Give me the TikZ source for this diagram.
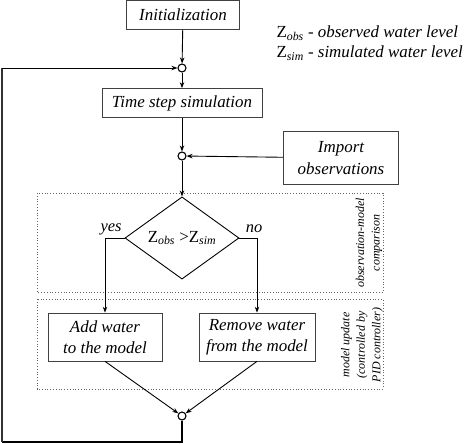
\documentclass[tikz,border=0pt]{standalone}
\usepackage{fontspec}
\setmainfont{Liberation Serif}
\usetikzlibrary{arrows.meta,shapes.geometric}

\begin{document}
\begin{tikzpicture}[x=1bp,y=1bp,
    process/.style ={rectangle, draw=black!75, line width=0.7pt, align=center,
                     font=\itshape\fontsize{17}{21.5}\selectfont, inner sep=1pt},
    junction/.style ={circle, draw, line width=1.1pt, minimum size=8bp, inner sep=0pt},
    decision/.style ={diamond, draw, line width=0.9pt, minimum width=114bp,
                      minimum height=79bp, inner sep=0pt, font=\fontsize{17}{20}\selectfont},
    flow/.style ={draw, line width=0.9pt, -{Stealth[length=6pt,width=4.5pt]}},
    region/.style ={draw=black!60, dotted, line width=0.8pt},
    sidenote/.style ={rotate=90, align=center, font=\itshape\fontsize{12}{15.5}\selectfont},
    answer/.style ={font=\itshape\fontsize{16.5}{19}\selectfont}]
   \useasboundingbox (0,0) rectangle (474,-444);

   % flow chart
   \node[process, minimum width=113bp, minimum height=29bp] (init) at (183,-15)  {Initialization};
   \node[junction] (j1) at (182,-68) {};
   \node[process, minimum width=160bp, minimum height=29bp] (sim)  at (182,-103) {Time step simulation};
   \node[junction] (j2) at (182,-156) {};
   \node[process, minimum width=115bp, minimum height=53bp] (obs)  at (341,-158) {Import\\observations};
   \node[decision] (cmp) at (182,-238) {Z\textsubscript{\itshape obs} {>}Z\textsubscript{\itshape sim}};
   \node[process, minimum width=114bp, minimum height=48bp] (add)  at (105,-337) {Add water\\to the model};
   \node[process, minimum width=116bp, minimum height=48bp] (rem)  at (257,-337) {Remove water\\from the model};
   \node[junction] (j3) at (182,-416) {};

   \node[answer] (yes) at (111,-229) {yes};
   \node[answer] (no)  at (254,-229) {no};

   % legend
   \node[anchor=west, font=\fontsize{17}{20}\selectfont] (leg1) at (273,-33)
      {Z\textsubscript{\itshape obs} - \textit{observed water level}};
   \node[anchor=west, font=\fontsize{17}{20}\selectfont] (leg2) at (273,-53)
      {Z\textsubscript{\itshape sim} - \textit{simulated water level}};

   % dotted regions
   \draw[region] (37,-193) rectangle (383,-292);
   \draw[region] (37,-299) rectangle (383,-389);
   \node[sidenote] (lbl1) at (369,-243) {observation-model\\comparison};
   \node[sidenote] (lbl2) at (362,-345) {model update\\(controlled by\\PID controller)};

   \coordinate (bl) at (2,-442);
   \coordinate (tl) at (2,-68);

   \draw[flow] (init) -- (j1);
   \draw[flow] (j1) -- (sim);
   \draw[flow] (sim) -- (j2);
   \draw[flow] (obs) -- (j2);
   \draw[flow] (j2) -- (cmp);
   \draw[flow] (cmp.west) -| (add);
   \draw[flow] (cmp.east) -| (rem);
   \draw[flow] (add.south) -- (j3);
   \draw[flow] (rem.south) -- (j3);
   \draw[line width=1.2pt] (j3) |- (bl);
   \draw[line width=2.2pt, black!80] (bl) -- (tl);
   \draw[flow] (tl) -- (j1);
 \end{tikzpicture}
\end{document}
